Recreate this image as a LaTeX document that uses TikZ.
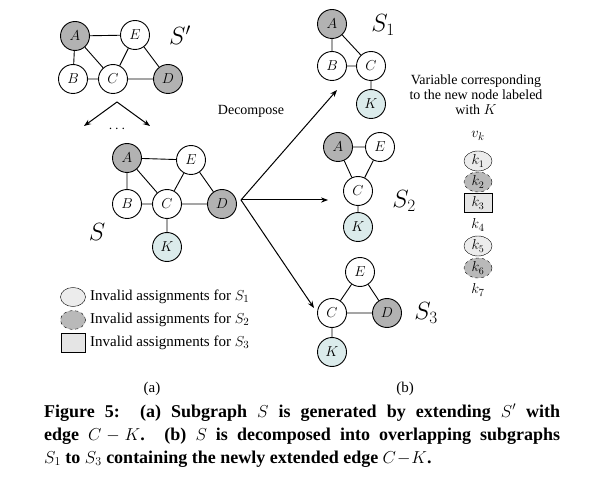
\documentclass[tikz,border=0pt]{standalone}
\usepackage{fontspec}
\setmainfont{Liberation Serif}
\usetikzlibrary{arrows.meta,shapes.geometric}
\definecolor{kfill}{rgb}{0.86,0.92,0.92}
\begin{document}
\begin{tikzpicture}[x=1pt,y=-1pt,
 v/.style={circle,draw,line width=0.9pt,minimum size=29pt,inner sep=0pt,font=\fontsize{14}{14}\selectfont,fill=white},
 g/.style={v,fill=gray!60},
 kk/.style={v,fill=kfill},
 e/.style={line width=0.9pt},
 ar/.style={line width=1pt,-{Stealth[length=7pt]}},
 big/.style={font=\fontsize{24}{24}\selectfont},
 lab/.style={font=\fontsize{15}{15}\selectfont},
 el1/.style={ellipse,draw,fill=gray!15,minimum width=30pt,minimum height=22pt,inner sep=0pt},
 el2/.style={ellipse,draw,dashed,fill=gray!55,minimum width=30pt,minimum height=22pt,inner sep=0pt},
 rc/.style={draw,fill=gray!20,minimum width=30pt,minimum height=22pt,inner sep=0pt}]
\useasboundingbox (0,0) rectangle (600,497);
% S'
\node[g] (pA) at (75,36) {$A$};
\node[v] (pE) at (135,35) {$E$};
\node[v] (pB) at (73,79) {$B$};
\node[v] (pC) at (113,79) {$C$};
\node[g] (pD) at (168,79) {$D$};
\draw[e] (pA)--(pE) (pA)--(pB) (pA)--(pC) (pB)--(pC) (pC)--(pE) (pC)--(pD) (pE)--(pD);
\node[big] (lSp) at (180,35) {$S'$};
\coordinate (apex) at (117,102);
\coordinate (l1) at (84,126);
\coordinate (l2) at (150,126);
\draw[ar] (apex)--(l1);
\draw[ar] (apex)--(l2);
\node[lab] (dots) at (117,129) {$\cdots$};
% S
\node[g] (A) at (127,158) {$A$};
\node[v] (E) at (191,160) {$E$};
\node[v] (B) at (127,204) {$B$};
\node[v] (C) at (167,204) {$C$};
\node[g] (D) at (222,204) {$D$};
\node[kk] (K) at (167,247) {$K$};
\draw[e] (A)--(E) (A)--(B) (A)--(C) (B)--(C) (C)--(E) (C)--(D) (E)--(D) (C)--(K);
\node[big] (lS) at (97,232) {$S$};
% decompose arrows
\coordinate (src) at (241,200);
\coordinate (t1) at (337,90);
\coordinate (t2) at (328,200);
\coordinate (t3) at (314,308);
\draw[ar] (src)--(t1);
\draw[ar] (src)--(t2);
\draw[ar] (src)--(t3);
\node[font=\fontsize{14}{14}\selectfont] (dec) at (251,111) {Decompose};
% S1
\node[g] (aA) at (332,24) {$A$};
\node[v] (aB) at (332,66) {$B$};
\node[v] (aC) at (371,66) {$C$};
\node[kk] (aK) at (371,104) {$K$};
\draw[e] (aA)--(aB) (aA)--(aC) (aB)--(aC) (aC)--(aK);
\node[big] (lS1) at (383,25) {$S_1$};
% S2
\node[g] (bA) at (338,147) {$A$};
\node[v] (bE) at (380,147) {$E$};
\node[v] (bC) at (358,191) {$C$};
\node[kk] (bK) at (358,227) {$K$};
\draw[e] (bA)--(bE) (bA)--(bC) (bE)--(bC) (bC)--(bK);
\node[big] (lS2) at (404,201) {$S_2$};
% S3
\node[v] (cE) at (360,272) {$E$};
\node[v] (cC) at (332,313) {$C$};
\node[g] (cD) at (387,313) {$D$};
\node[kk] (cK) at (332,352) {$K$};
\draw[e] (cE)--(cC) (cE)--(cD) (cC)--(cD) (cC)--(cK);
\node[big] (lS3) at (426,313) {$S_3$};
% variable text
\node[align=center,font=\fontsize{14}{15}\selectfont] (var) at (476,95) {Variable corresponding\\to the new node labeled\\with $K$};
\node[lab] (vk) at (478,136) {$v_k$};
\node[el1,minimum width=28pt,minimum height=20pt,font=\fontsize{14}{14}\selectfont] (k1) at (478,161) {$k_1$};
\node[el2,minimum width=28pt,minimum height=20pt,font=\fontsize{14}{14}\selectfont] (k2) at (478,182) {$k_2$};
\node[rc,minimum width=28pt,minimum height=19pt,font=\fontsize{14}{14}\selectfont] (k3) at (478,203) {$k_3$};
\node[lab] (k4) at (478,225) {$k_4$};
\node[el1,minimum width=28pt,minimum height=20pt,font=\fontsize{14}{14}\selectfont] (k5) at (478,246) {$k_5$};
\node[el2,minimum width=28pt,minimum height=20pt,font=\fontsize{14}{14}\selectfont] (k6) at (478,268) {$k_6$};
\node[lab] (k7) at (478,290) {$k_7$};
% legend
\node[el1,minimum width=25pt,minimum height=19pt] (L1) at (73,297) {};
\node[el2,minimum width=25pt,minimum height=19pt] (L2) at (73,320) {};
\node[rc,minimum width=24pt,minimum height=19pt] (L3) at (73,343) {};
\node[lab,anchor=west,inner sep=0pt] (T1) at (90,297) {Invalid assignments for $S_1$};
\node[lab,anchor=west,inner sep=0pt] (T2) at (90,320) {Invalid assignments for $S_2$};
\node[lab,anchor=west,inner sep=0pt] (T3) at (90,343) {Invalid assignments for $S_3$};
\node[lab] (ca) at (152,389) {(a)};
\node[lab] (cb) at (405,389) {(b)};
\node[anchor=north west,text width=516pt,align=justify,inner sep=0pt,font=\bfseries\fontsize{18}{23}\selectfont] (cap) at (44,404)
{Figure 5:\ \ (a) Subgraph $S$ is generated by extending $S'$ with\linebreak edge $C\!-\!K$. (b) $S$ is decomposed into overlapping subgraphs\linebreak $S_1$ to $S_3$ containing the newly extended edge $C\!-\!K$.};
\end{tikzpicture}
\end{document}
